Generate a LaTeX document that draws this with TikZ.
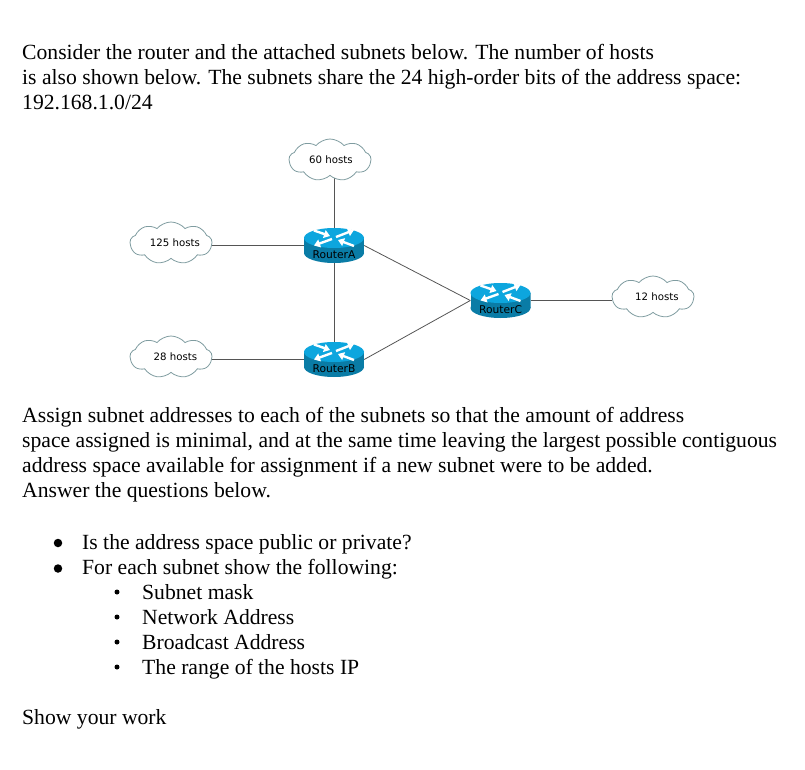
\documentclass[tikz,border=0pt]{standalone}
\usepackage{fontspec}
\setmainfont{Liberation Serif}
\newfontfamily\labelfont{DejaVu Sans}
\usepackage{xcolor}
\usepackage{tikz}
\usetikzlibrary{positioning, arrows.meta, shapes.symbols, backgrounds}

\definecolor{routertop}{HTML}{0DA6DE}
\definecolor{routerside}{HTML}{0A7CA6}
\definecolor{cloudline}{HTML}{7F9CA0}
\definecolor{linkline}{HTML}{555555}

\newcommand{\routericon}{%
  \fill[routerside] (-30,-7.5) rectangle (30,7.5);
  \fill[routerside] (0,7.5) ellipse[x radius=30pt, y radius=10pt];
  \fill[routertop] (0,-7.5) ellipse[x radius=30pt, y radius=10pt];
  \foreach \ax/\ay/\bx/\by in {-20/-15/-4/-9.5, 2/-8.5/20/-15.5, -2/-6.5/-20/0, 20/0.5/4/-5.5} {
    \draw[white, line width=2.4pt, -{Triangle[length=6pt, width=8pt]}] (\ax,\ay) -- (\bx,\by);
  }
}
\newcommand{\cloudtext}[2]{\makebox[0pt]{\hspace*{#1}#2}}

\begin{document}
\begin{tikzpicture}[
    x=1pt, y=-1pt,
    textline/.style={anchor=base west, inner sep=0pt, font=\fontsize{21.65pt}{22pt}\selectfont},
    bullet/.style={circle, fill=black, inner sep=0pt, minimum size=#1},
    hostcloud/.style={cloud, cloud puffs=9, cloud puff arc=100, aspect=2, draw=cloudline, line width=0.8pt, fill=white, inner sep=0pt,
        minimum width=82pt, minimum height=42pt, font=\labelfont\fontsize{10.2pt}{12pt}\selectfont},
    routerbox/.style={minimum width=60pt, minimum height=35pt, inner sep=0pt, path picture={\routericon},
        label={[font=\labelfont\fontsize{10.7pt}{12pt}\selectfont, yshift=-9pt, inner sep=0pt, text=black]center:#1}},
    link/.style={draw=linkline, line width=0.8pt}
]
\useasboundingbox (0,0) rectangle (805,770);

% text above the network
\node[textline] (introA) at (22,60) {Consider the router and the attached subnets below. The number of hosts};
\node[textline] (introB) at (22,85) {is also shown below. The subnets share the 24 high-order bits of the address space:};
\node[textline] (introC) at (22,110) {192.168.1.0/24};

% network
\node[hostcloud] (cloudTop) at (330,160) {\cloudtext{2pt}{\raisebox{1pt}{60 hosts}}};
\node[hostcloud] (cloudA) at (171,243) {\cloudtext{8pt}{125 hosts}};
\node[hostcloud] (cloudB) at (171,357) {\cloudtext{9pt}{28 hosts}};
\node[hostcloud] (cloudC) at (653,297) {\cloudtext{8pt}{12 hosts}};
\node[routerbox=RouterA] (routerA) at (334,245.5) {};
\node[routerbox=RouterB] (routerB) at (334,359.5) {};
\node[routerbox=RouterC] (routerC) at (500.5,300.5) {};

\begin{scope}[on background layer]
\draw[link] (cloudTop.south -| routerA.north) -- (routerA.north);
\draw[link] (cloudA.east |- routerA.west) -- (routerA.west);
\draw[link] (cloudB.east |- routerB.west) -- (routerB.west);
\draw[link] (routerA.south) -- (routerB.north);
\draw[link] (routerA.east) -- (routerC.west);
\draw[link] (routerB.east) -- (routerC.west);
\draw[link] (routerC.east) -- (cloudC.west |- routerC.east);
\end{scope}

% text below the network
\node[textline] (assignA) at (22,422) {Assign subnet addresses to each of the subnets so that the amount of address};
\node[textline] (assignB) at (22,447) {space assigned is minimal, and at the same time leaving the largest possible contiguous};
\node[textline] (assignC) at (22,472) {address space available for assignment if a new subnet were to be added.};
\node[textline] (assignD) at (22,497) {Answer the questions below.};

\node[textline] (itemA) at (82,549) {Is the address space public or private?};
\node[textline] (itemB) at (82,574) {For each subnet show the following:};
\node[textline] (subA) at (142,599) {Subnet mask};
\node[textline] (subB) at (142,624) {Network Address};
\node[textline] (subC) at (142,649) {Broadcast Address};
\node[textline] (subD) at (142,674) {The range of the hosts IP};
\node[textline] (showWork) at (22,724) {Show your work};

\node[bullet=8.5pt] (dotA) at (58,543) {};
\node[bullet=8.5pt] (dotB) at (58,568.5) {};
\foreach \i/\yy in {1/592, 2/617, 3/642, 4/667} {
  \node[bullet=5pt] (subdot\i) at (117,\yy) {};
}
\end{tikzpicture}
\end{document}
